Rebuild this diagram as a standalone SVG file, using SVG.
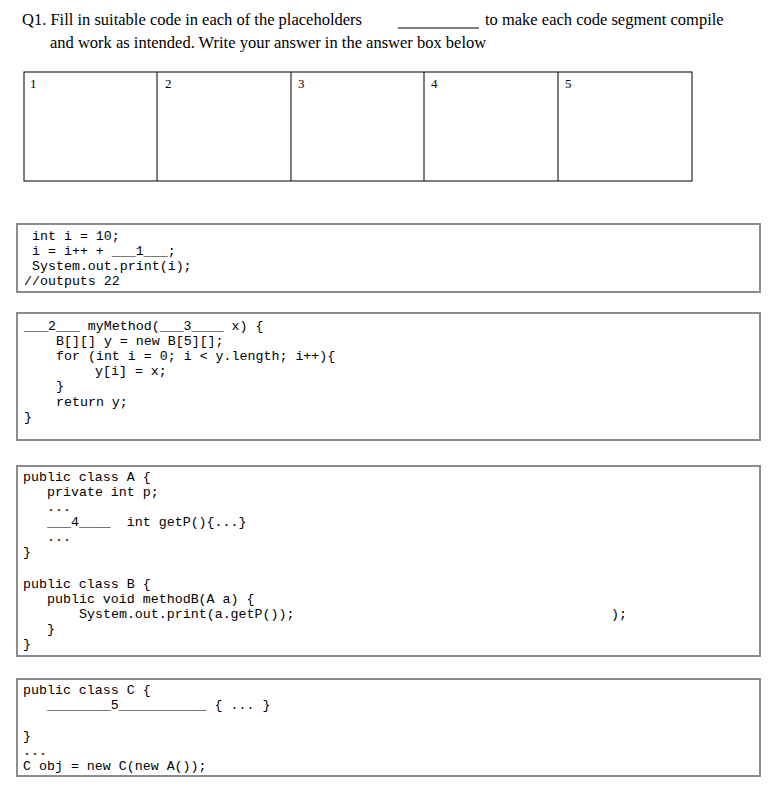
<svg xmlns="http://www.w3.org/2000/svg" width="780" height="795" viewBox="0 0 780 795">
<style>
.t{font-family:"Liberation Serif",serif;font-size:16.5px;fill:#000}
.n{font-family:"Liberation Serif",serif;font-size:13px;fill:#000}
.c{font-family:"Liberation Mono",monospace;font-size:13.3px;fill:#000;white-space:pre}
.s{font-family:"Liberation Sans",sans-serif;font-size:12px;fill:#000}
.b{fill:#fff;stroke:#8c8c8c;stroke-width:2}
.g{fill:none;stroke:#000;stroke-width:1}
</style>
<rect width="780" height="795" fill="#fff"/>
<g id="title">
<text class="t" x="22" y="25">Q1. Fill in suitable code in each of the placeholders</text>
<line x1="398" y1="28" x2="479" y2="28" stroke="#000"/>
<text class="t" x="485" y="25">to make each code segment compile</text>
<text class="t" x="50" y="48">and work as intended. Write your answer in the answer box below</text>
</g>
<g id="answers">
<rect class="g" x="24" y="72" width="668" height="109"/>
<line class="g" x1="157" y1="72" x2="157" y2="181"/>
<line class="g" x1="291" y1="72" x2="291" y2="181"/>
<line class="g" x1="424" y1="72" x2="424" y2="181"/>
<line class="g" x1="558" y1="72" x2="558" y2="181"/>
<text class="n" x="30" y="88">1</text>
<text class="n" x="165" y="88">2</text>
<text class="n" x="298" y="88">3</text>
<text class="n" x="431" y="88">4</text>
<text class="n" x="565" y="88">5</text>
</g>
<g id="seg1">
<rect class="b" x="17" y="224" width="743" height="68"/>
<text class="c" x="32" y="240" xml:space="preserve">int i = 10;</text>
<text class="c" x="32" y="255" xml:space="preserve">i = i++ + ___1___;</text>
<text class="c" x="32" y="270" xml:space="preserve">System.out.print(i);</text>
<text class="c" x="24" y="285" xml:space="preserve">//outputs 22</text>
</g>
<g id="seg2">
<rect class="b" x="17" y="313" width="743" height="127"/>
<text class="c" x="24" y="330" xml:space="preserve">___2___ myMethod(___3____ x) {</text>
<text class="c" x="56" y="345" xml:space="preserve">B[][] y = new B[5][];</text>
<text class="c" x="56" y="360" xml:space="preserve">for (int i = 0; i &lt; y.length; i++){</text>
<text class="c" x="95" y="375" xml:space="preserve">y[i] = x;</text>
<text class="c" x="56" y="390" xml:space="preserve">}</text>
<text class="c" x="56" y="406" xml:space="preserve">return y;</text>
<text class="c" x="24" y="421" xml:space="preserve">}</text>
</g>
<g id="seg3">
<rect class="b" x="17" y="466" width="743" height="190"/>
<text class="c" x="23" y="481" xml:space="preserve">public class A {</text>
<text class="c" x="47" y="496" xml:space="preserve">private int p;</text>
<text class="c" x="47" y="511" xml:space="preserve">...</text>
<text class="c" x="47" y="526" xml:space="preserve">___4____  int getP(){...}</text>
<text class="c" x="47" y="541" xml:space="preserve">...</text>
<text class="c" x="23" y="556" xml:space="preserve">}</text>
<text class="c" x="23" y="588" xml:space="preserve">public class B {</text>
<text class="c" x="47" y="603" xml:space="preserve">public void methodB(A a) {</text>
<text class="c" x="79" y="618" xml:space="preserve">System.out.print(a.getP());</text>
<text class="c" x="611" y="618" xml:space="preserve">);</text>
<text class="c" x="47" y="633" xml:space="preserve">}</text>
<text class="c" x="23" y="648" xml:space="preserve">}</text>
</g>
<g id="seg4">
<rect class="b" x="17" y="679" width="743" height="97"/>
<text class="c" x="23" y="694" xml:space="preserve">public class C {</text>
<text class="c" x="47" y="709" xml:space="preserve">________5___________ { ... }</text>
<text class="c" x="23" y="740" xml:space="preserve">}</text>
<text class="c" x="23" y="755" xml:space="preserve">...</text>
<text class="c" x="23" y="770" xml:space="preserve">C obj = new C(new A());</text>
</g>
</svg>
